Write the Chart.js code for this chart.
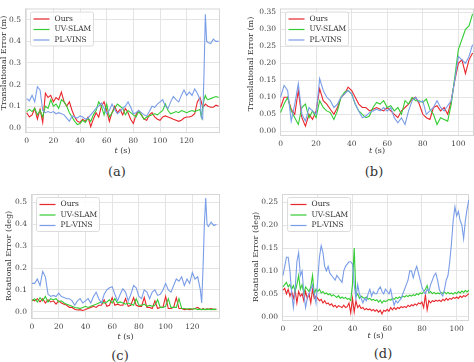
<!DOCTYPE html>
<html>
<head>
<meta charset="utf-8">
<script src="https://cdn.jsdelivr.net/npm/chart.js@4.4.0/dist/chart.umd.min.js"></script>
<style>
  html, body { margin: 0; padding: 0; background: #fff; }
  #page { position: relative; width: 474px; height: 362px; overflow: hidden; }
  .panel { position: absolute; width: 237px; height: 160px; }
  .cap { position: absolute; font-family: 'DejaVu Serif', serif; font-size: 13px; color: #333;
         transform: translate(-50%, -50%); white-space: nowrap; }
</style>
</head>
<body>
<div id="page">
  <div class="panel" style="left:0;top:0"><canvas id="ca"></canvas></div>
  <div class="panel" style="left:237px;top:0"><canvas id="cb"></canvas></div>
  <div class="panel" style="left:0;top:181px"><canvas id="cc"></canvas></div>
  <div class="panel" style="left:237px;top:181px"><canvas id="cd"></canvas></div>
  <div class="cap" style="left:117px;top:171px">(a)</div>
  <div class="cap" style="left:374px;top:171px">(b)</div>
  <div class="cap" style="left:120px;top:355px">(c)</div>
  <div class="cap" style="left:383px;top:353px">(d)</div>
</div>
<script>
const seriesNames = ['Ours', 'UV-SLAM', 'PL-VINS'];
const seriesColors = ['#e8262b', '#33cc33', '#7a9de8'];

// (a) translational error, sequence 1
const tA = [0,2,4,6,8,10,12,14,16,18,
  20,22,24,26,28,30,32,34,36,38,
  40,42,44,46,48,50,52,54,56,58,
  60,62,64,66,68,70,72,74,76,78,
  80,82,84,86,88,90,92,94,96,98,
  100,102,104,106,108,110,112,114,116,118,
  120,122,124,126,128,130,131,132,133,134,
  135,136,138,140,142,144];
const oursA = [0.07,0.05,0.06,0.09,0.04,0.085,0.025,0.16,0.14,0.15,
  0.12,0.14,0.13,0.165,0.12,0.10,0.12,0.08,0.05,0.03,
  0.025,0.04,0.03,0.05,0.005,0.04,0.07,0.05,0.10,0.12,
  0.08,0.03,0.07,0.10,0.07,0.085,0.06,0.09,0.07,0.04,
  0.02,0.06,0.08,0.06,0.04,0.035,0.06,0.07,0.05,0.04,
  0.035,0.05,0.055,0.05,0.045,0.04,0.035,0.03,0.035,0.045,
  0.05,0.05,0.055,0.065,0.12,0.14,0.12,0.095,0.10,0.11,
  0.105,0.10,0.095,0.095,0.105,0.10];
const uvA = [0.075,0.085,0.075,0.09,0.06,0.08,0.05,0.10,0.09,0.13,
  0.10,0.11,0.09,0.13,0.12,0.10,0.07,0.05,0.03,0.015,
  0.02,0.035,0.025,0.045,0.03,0.06,0.08,0.12,0.10,0.06,
  0.11,0.05,0.07,0.09,0.11,0.10,0.09,0.06,0.08,0.07,
  0.06,0.05,0.075,0.06,0.04,0.05,0.055,0.06,0.065,0.06,
  0.07,0.08,0.11,0.08,0.065,0.07,0.075,0.07,0.08,0.075,
  0.07,0.075,0.08,0.075,0.08,0.085,0.05,0.09,0.13,0.15,
  0.135,0.13,0.135,0.14,0.145,0.14];
const plA = [0.135,0.125,0.15,0.12,0.19,0.175,0.08,0.07,0.075,0.07,
  0.075,0.065,0.07,0.065,0.06,0.045,0.03,0.055,0.05,0.045,
  0.055,0.05,0.04,0.045,0.06,0.075,0.09,0.10,0.115,0.09,
  0.065,0.08,0.11,0.085,0.065,0.075,0.09,0.10,0.12,0.095,
  0.065,0.07,0.08,0.07,0.06,0.055,0.075,0.10,0.095,0.11,
  0.12,0.13,0.10,0.09,0.12,0.145,0.13,0.12,0.15,0.175,
  0.15,0.165,0.15,0.18,0.16,0.13,0.05,0.04,0.25,0.525,
  0.40,0.395,0.39,0.41,0.40,0.40];

// (b) translational error, sequence 2
const tB = [0,2,4,6,8,10,12,14,16,18,
  20,22,24,26,28,30,32,34,36,38,
  40,42,44,46,48,50,52,54,56,58,
  60,62,64,66,68,70,72,74,76,78,
  80,82,84,86,88,90,92,94,96,98,
  100,102,104,106,108];
const oursB = [0.07,0.10,0.10,0.065,0.05,0.12,0.04,0.015,0.05,0.035,
  0.06,0.125,0.09,0.08,0.065,0.05,0.07,0.10,0.11,0.13,
  0.12,0.10,0.08,0.07,0.07,0.06,0.065,0.07,0.065,0.06,
  0.07,0.06,0.05,0.04,0.06,0.07,0.08,0.095,0.10,0.08,
  0.05,0.04,0.035,0.07,0.075,0.06,0.07,0.05,0.09,0.15,
  0.20,0.21,0.17,0.21,0.23];
const uvB = [0.055,0.08,0.10,0.06,0.04,0.02,0.07,0.08,0.04,0.06,
  0.04,0.09,0.07,0.06,0.055,0.035,0.06,0.10,0.115,0.12,
  0.11,0.08,0.06,0.05,0.04,0.045,0.07,0.085,0.08,0.09,
  0.07,0.075,0.06,0.07,0.05,0.09,0.08,0.10,0.09,0.09,
  0.085,0.095,0.065,0.05,0.02,0.04,0.035,0.03,0.08,0.16,
  0.24,0.27,0.30,0.31,0.345];
const plB = [0.10,0.135,0.12,0.03,0.08,0.14,0.05,0.03,0.07,0.06,
  0.05,0.155,0.12,0.10,0.09,0.07,0.08,0.10,0.11,0.12,
  0.11,0.08,0.06,0.04,0.045,0.055,0.06,0.065,0.06,0.07,
  0.06,0.07,0.04,0.025,0.04,0.02,0.06,0.09,0.10,0.085,
  0.09,0.05,0.06,0.07,0.09,0.07,0.06,0.075,0.09,0.15,
  0.22,0.21,0.20,0.22,0.255];

// (c) rotational error, sequence 1
const tC = [0,2,4,6,8,10,12,14,16,18,
  20,22,24,26,28,30,32,34,36,38,
  40,42,44,46,48,50,52,54,56,58,
  60,62,64,66,68,70,72,74,76,78,
  80,82,84,86,88,90,92,94,96,98,
  100,102,104,106,108,110,112,114,116,118,
  120,122,124,126,127,128,129,130,131,132,
  134,136,138];
const oursC = [0.055,0.05,0.06,0.045,0.06,0.04,0.055,0.045,0.05,0.035,
  0.05,0.04,0.035,0.03,0.02,0.02,0.012,0.008,0.01,0.006,
  0.01,0.015,0.02,0.025,0.02,0.03,0.03,0.055,0.025,0.03,
  0.065,0.03,0.035,0.03,0.03,0.06,0.025,0.03,0.065,0.03,
  0.025,0.025,0.065,0.02,0.02,0.015,0.05,0.015,0.02,0.02,
  0.07,0.015,0.015,0.02,0.065,0.015,0.015,0.01,0.012,0.01,
  0.012,0.015,0.02,0.012,0.01,0.015,0.012,0.01,0.014,0.012,
  0.015,0.01,0.012];
const uvC = [0.05,0.06,0.045,0.065,0.05,0.07,0.045,0.06,0.055,0.06,
  0.045,0.05,0.04,0.035,0.03,0.025,0.02,0.018,0.015,0.02,
  0.025,0.02,0.025,0.03,0.035,0.04,0.045,0.04,0.045,0.055,
  0.04,0.06,0.04,0.045,0.04,0.035,0.04,0.035,0.03,0.06,
  0.03,0.03,0.035,0.025,0.03,0.025,0.03,0.055,0.02,0.02,
  0.025,0.06,0.02,0.02,0.02,0.06,0.015,0.015,0.012,0.015,
  0.012,0.015,0.01,0.012,0.01,0.012,0.01,0.012,0.01,0.012,
  0.01,0.012,0.01];
const plC = [0.13,0.13,0.15,0.12,0.185,0.16,0.08,0.07,0.075,0.07,
  0.085,0.07,0.065,0.06,0.06,0.05,0.03,0.05,0.06,0.04,
  0.05,0.06,0.04,0.07,0.09,0.06,0.04,0.08,0.10,0.11,
  0.115,0.08,0.05,0.08,0.105,0.09,0.05,0.08,0.12,0.11,
  0.07,0.06,0.10,0.09,0.06,0.09,0.10,0.075,0.08,0.10,
  0.13,0.10,0.09,0.12,0.15,0.14,0.16,0.12,0.15,0.13,
  0.18,0.15,0.16,0.10,0.04,0.20,0.40,0.52,0.40,0.39,
  0.41,0.395,0.40];

// (d) rotational error, sequence 2
const tD = [0,1,2,3,4,5,6,7,8,9,
  10,11,12,13,14,15,16,17,18,19,
  20,21,22,23,24,25,26,27,28,29,
  30,31,32,33,34,35,36,37,38,39,
  40,41,42,43,44,45,46,47,48,49,
  50,51,52,53,54,55,56,57,58,59,
  60,61,62,63,64,65,66,67,68,69,
  70,71,72,73,74,75,76,77,78,79,
  80,81,82,83,84,85,86,87,88,89,
  90,91,92,93,94,95,96,97,98,99,
  100,101,102,103,104,105,106,107];
const oursD = [0.058,0.062,0.05,0.06,0.045,0.055,0.04,0.058,0.03,0.055,
  0.045,0.05,0.035,0.055,0.04,0.05,0.03,0.06,0.04,0.045,
  0.04,0.035,0.038,0.03,0.035,0.028,0.03,0.025,0.028,0.022,
  0.025,0.02,0.024,0.022,0.02,0.025,0.02,0.022,0.03,0.008,
  0.04,0.01,0.035,0.02,0.025,0.018,0.02,0.015,0.018,0.015,
  0.017,0.013,0.016,0.012,0.015,0.01,0.014,0.006,0.014,0.012,
  0.016,0.012,0.02,0.015,0.02,0.016,0.02,0.018,0.022,0.02,
  0.022,0.02,0.025,0.022,0.026,0.024,0.028,0.025,0.03,0.028,
  0.032,0.02,0.048,0.015,0.035,0.03,0.035,0.033,0.036,0.034,
  0.036,0.033,0.038,0.035,0.04,0.036,0.04,0.038,0.042,0.04,
  0.043,0.04,0.045,0.042,0.046,0.044,0.047,0.05];
const uvD = [0.065,0.07,0.075,0.065,0.07,0.06,0.068,0.055,0.07,0.09,
  0.06,0.07,0.05,0.065,0.06,0.055,0.065,0.09,0.05,0.06,
  0.055,0.06,0.052,0.055,0.05,0.052,0.048,0.05,0.045,0.048,
  0.045,0.042,0.046,0.04,0.043,0.04,0.042,0.038,0.04,0.035,
  0.07,0.15,0.045,0.05,0.04,0.045,0.042,0.04,0.043,0.038,
  0.04,0.036,0.038,0.035,0.037,0.032,0.036,0.03,0.035,0.033,
  0.035,0.038,0.036,0.04,0.038,0.042,0.04,0.043,0.041,0.045,
  0.043,0.046,0.044,0.047,0.045,0.048,0.046,0.05,0.048,0.052,
  0.05,0.055,0.06,0.068,0.052,0.055,0.05,0.053,0.05,0.052,
  0.05,0.053,0.051,0.054,0.05,0.053,0.05,0.052,0.049,0.053,
  0.05,0.055,0.052,0.056,0.053,0.057,0.054,0.058];
const plD = [0.09,0.11,0.13,0.13,0.10,0.05,0.02,0.06,0.12,0.14,
  0.09,0.10,0.05,0.02,0.04,0.05,0.06,0.07,0.05,0.03,
  0.08,0.13,0.155,0.14,0.11,0.10,0.11,0.095,0.09,0.085,
  0.08,0.09,0.085,0.08,0.075,0.10,0.11,0.115,0.12,0.12,
  0.115,0.07,0.04,0.07,0.05,0.04,0.03,0.04,0.035,0.05,
  0.06,0.045,0.055,0.05,0.05,0.06,0.065,0.055,0.05,0.06,
  0.055,0.05,0.06,0.04,0.025,0.035,0.03,0.035,0.04,0.05,
  0.06,0.07,0.08,0.10,0.10,0.085,0.10,0.11,0.095,0.08,
  0.065,0.055,0.05,0.06,0.055,0.07,0.08,0.09,0.095,0.08,
  0.06,0.05,0.045,0.06,0.08,0.09,0.12,0.16,0.21,0.24,
  0.22,0.23,0.21,0.20,0.17,0.21,0.235,0.255];

const xTicksA = [0, 20, 40, 60, 80, 100, 120];
const xTicksB = [0, 20, 40, 60, 80, 100];
const yTicksA = [0, 0.1, 0.2, 0.3, 0.4, 0.5];
const yTicksB = [0, 0.05, 0.1, 0.15, 0.2, 0.25, 0.3, 0.35];
const yTicksD = [0, 0.05, 0.1, 0.15, 0.2, 0.25];

const SERIF = '"DejaVu Serif", serif';
const GRID = '#e4e4e4';

// frame, axis titles and the boxed legend
const decor = {
  id: 'decor',
  beforeDatasetsDraw(chart) {
    const a = chart.chartArea, ctx = chart.ctx;
    ctx.save();
    ctx.strokeStyle = '#d6d6d6';
    ctx.lineWidth = 1;
    ctx.strokeRect(a.left + 0.5, a.top + 0.5, a.right - a.left - 1, a.bottom - a.top - 1);
    ctx.restore();
  },
  afterDraw(chart, args, o) {
    const a = chart.chartArea, ctx = chart.ctx;
    ctx.save();
    ctx.fillStyle = '#333';
    ctx.textBaseline = 'middle';
    const it = 'italic 8px ' + SERIF, rg = '8px ' + SERIF;
    ctx.font = it; const w1 = ctx.measureText('t').width;
    ctx.font = rg; const w2 = ctx.measureText(' (s)').width;
    const x0 = (a.left + a.right) / 2 - (w1 + w2) / 2;
    ctx.textAlign = 'left';
    ctx.font = it; ctx.fillText('t', x0, o.xTitleY);
    ctx.font = rg; ctx.fillText(' (s)', x0 + w1, o.xTitleY);
    ctx.save();
    ctx.translate(o.yTitleX, o.yTitleY);
    ctx.rotate(-Math.PI / 2);
    ctx.textAlign = 'center';
    ctx.fillText(o.yTitle, 0, 0);
    ctx.restore();

    // legend
    const lx = a.left + 5.5, ly = a.top + 3.5, lw = 63, lh = 34;
    ctx.beginPath();
    ctx.roundRect(lx, ly, lw, lh, 2);
    ctx.fillStyle = 'rgba(255,255,255,0.85)';
    ctx.fill();
    ctx.strokeStyle = '#dcdcdc';
    ctx.lineWidth = 1;
    ctx.stroke();
    ctx.font = '7.5px ' + SERIF;
    chart.data.datasets.forEach((ds, i) => {
      const y = ly + 7 + i * 10.5;
      ctx.strokeStyle = ds.borderColor;
      ctx.lineWidth = 1.2;
      ctx.beginPath();
      ctx.moveTo(lx + 3, y);
      ctx.lineTo(lx + 19, y);
      ctx.stroke();
      ctx.fillStyle = '#333';
      ctx.fillText(ds.label, lx + 24, y);
    });
    ctx.restore();
  }
};

function makePanel(id, p) {
  const datasets = p.series.map((vals, i) => ({
    label: seriesNames[i],
    data: p.times.map((t, j) => ({ x: t, y: vals[j] })),
    borderColor: seriesColors[i],
    borderWidth: 1.1,
    pointRadius: 0,
    tension: 0,
    order: 2 - i,
    clip: 0
  }));
  return new Chart(document.getElementById(id), {
    type: 'line',
    data: { datasets },
    plugins: [decor],
    options: {
      animation: false,
      responsive: true,
      maintainAspectRatio: false,
      events: [],
      layout: { autoPadding: false, padding: { left: 0, top: p.padT, right: p.padR, bottom: 0 } },
      plugins: {
        legend: { display: false },
        tooltip: { enabled: false },
        decor: { xTitleY: p.xTitleY, yTitle: p.yTitle, yTitleX: p.yTitleX, yTitleY: p.yTitleY }
      },
      scales: {
        x: {
          type: 'linear', min: p.xMin, max: p.xMax,
          afterBuildTicks: s => { s.ticks = p.xTicks.map(v => ({ value: v })); },
          afterFit: s => { s.height = p.xAxisH; },
          grid: { color: GRID, drawTicks: false },
          border: { display: false },
          ticks: { font: { family: SERIF, size: 7.5 }, color: '#444', padding: 4, maxRotation: 0, autoSkip: false }
        },
        y: {
          type: 'linear', min: p.yMin, max: p.yMax,
          afterBuildTicks: s => { s.ticks = p.yTicks.map(v => ({ value: v })); },
          afterFit: s => { s.width = p.yAxisW; },
          grid: { color: GRID, drawTicks: false },
          border: { display: false },
          ticks: { font: { family: SERIF, size: 7.5 }, color: '#444', padding: 4,
                   callback: v => Number(v).toFixed(p.dec) }
        }
      }
    }
  });
}

makePanel('ca', {
  times: tA, series: [oursA, uvA, plA],
  xMin: -1.3, xMax: 145, yMin: -0.024, yMax: 0.552,
  xTicks: xTicksA, yTicks: yTicksA, dec: 1,
  yAxisW: 25, xAxisH: 27, padT: 3, padR: 17,
  xTitleY: 151, yTitle: 'Translational Error (m)', yTitleX: 4, yTitleY: 63
});
makePanel('cb', {
  times: tB, series: [oursB, uvB, plB],
  xMin: -0.3, xMax: 108.8, yMin: -0.0138, yMax: 0.361,
  xTicks: xTicksB, yTicks: yTicksB, dec: 2,
  yAxisW: 43, xAxisH: 24, padT: 0, padR: 0,
  xTitleY: 151, yTitle: 'Translational Error (m)', yTitleX: 14, yTitleY: 64
});
makePanel('cc', {
  times: tC, series: [oursC, uvC, plC],
  xMin: -0.75, xMax: 140.7, yMin: -0.033, yMax: 0.539,
  xTicks: xTicksA, yTicks: yTicksA, dec: 1,
  yAxisW: 31, xAxisH: 22, padT: 13, padR: 17,
  xTitleY: 155.5, yTitle: 'Rotational Error (deg)', yTitleX: 9, yTitleY: 75
});
makePanel('cd', {
  times: tD, series: [oursD, uvD, plD],
  xMin: -0.57, xMax: 107.1, yMin: -0.0094, yMax: 0.268,
  xTicks: xTicksB, yTicks: yTicksD, dec: 2,
  yAxisW: 45, xAxisH: 20, padT: 13, padR: 5,
  xTitleY: 155, yTitle: 'Rotational Error (deg)', yTitleX: 19, yTitleY: 76
});
</script>
</body>
</html>
